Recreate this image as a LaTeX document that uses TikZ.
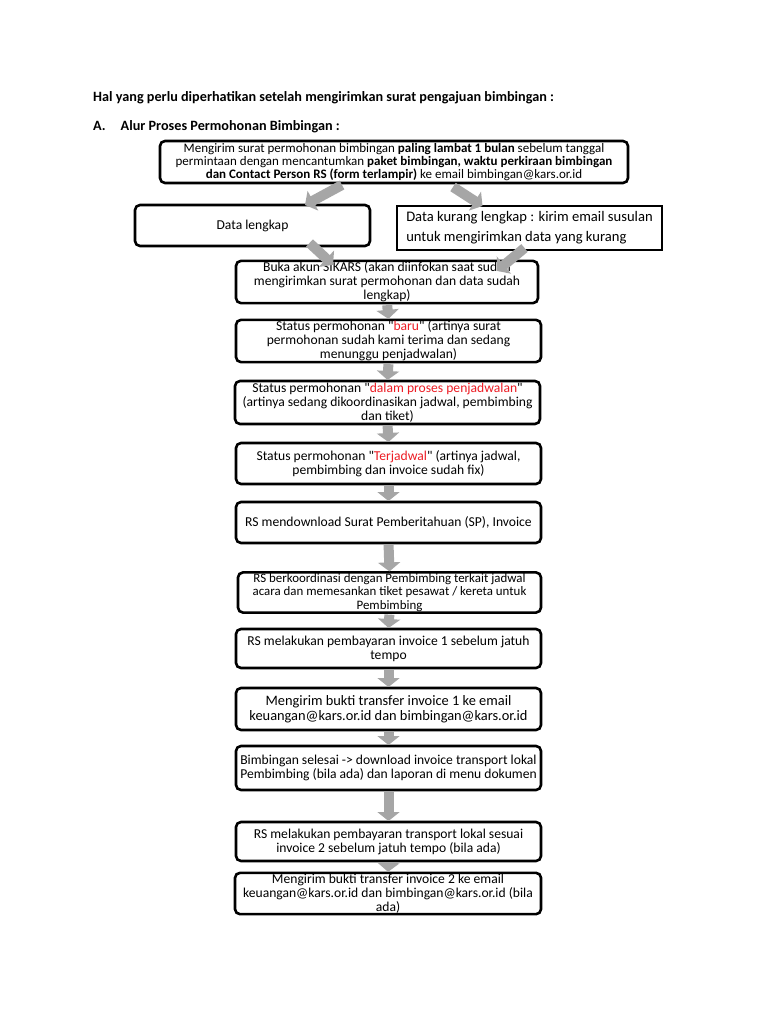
\documentclass[tikz,border=0pt]{standalone}
\usepackage{fontspec}
\setmainfont{Carlito}[Ligatures=TeXOff]
\usetikzlibrary{positioning,arrows.meta}
\definecolor{FlowGray}{RGB}{166,166,166}
\definecolor{FlowRed}{RGB}{237,28,36}

\begin{document}
\begin{tikzpicture}[x=1pt,y=-1pt,
box/.style={rectangle,rounded corners=5pt,draw=black,line width=2.6pt,fill=white,
minimum width=305pt,minimum height=41pt,align=center,inner sep=1pt,outer sep=0pt,
font=\fontsize{13.6}{14}\selectfont},
flow/.style={-{Triangle[length=9pt,width=22pt]},line width=10pt,draw=FlowGray,
shorten <=2pt,shorten >=1pt}
]
\useasboundingbox[fill=white] (0,0) rectangle (768,1024);

% headings
\node[anchor=base west,inner sep=0pt,font=\fontsize{14.2}{16}\selectfont\bfseries] (title) at (93,102)
  {Hal yang perlu diperhatikan setelah mengirimkan surat pengajuan bimbingan :};
\node[anchor=base west,inner sep=0pt,font=\fontsize{14.2}{16}\selectfont\bfseries] (secA) at (93,131)
  {A.\hspace{15pt}Alur Proses Permohonan Bimbingan :};

% request and data check
\node[box,minimum width=468pt,minimum height=42pt,font=\fontsize{13}{13}\selectfont] (req) at (394,162)
  {Mengirim surat permohonan bimbingan \textbf{paling lambat 1 bulan} sebelum tanggal\\
   permintaan dengan mencantumkan \textbf{paket bimbingan, waktu perkiraan bimbingan}\\
   \textbf{dan Contact Person RS (form terlampir)} ke email bimbingan@kars.or.id};
\node[box,minimum width=235pt] (lengkap) at (252.5,225.5) {Data lengkap};
\node[box,rounded corners=0pt,line width=2.8pt,minimum width=265pt,minimum height=44pt,
  align=left,font=\fontsize{14.6}{20}\selectfont] (kurang) at (529.5,228)
  {Data kurang lengkap : kirim email susulan\\untuk mengirimkan data yang kurang};

% main flow
\node[box,minimum width=302pt,minimum height=40pt] (akun) at (387,282)
  {Buka akun SIKARS (akan diinfokan saat sudah\\
   mengirimkan surat permohonan dan data sudah\\lengkap)};
\node[box,minimum height=42pt] (baru) at (388.5,341)
  {Status permohonan "\textcolor{FlowRed}{baru}" (artinya surat\\
   permohonan sudah kami terima dan sedang\\menunggu penjadwalan)};
\node[box,minimum height=43pt] (proses) at (387.5,402.5)
  {Status permohonan "\textcolor{FlowRed}{dalam proses penjadwalan}"\\
   (artinya sedang dikoordinasikan jadwal, pembimbing\\dan tiket)};
\node[box] (jadwal) at (388.5,463.5)
  {Status permohonan "\textcolor{FlowRed}{Terjadwal}" (artinya jadwal,\\
   pembimbing dan invoice sudah fix)};
\node[box] (unduh) at (388.5,522.5)
  {RS mendownload Surat Pemberitahuan (SP), Invoice};
\node[box,minimum width=303pt,minimum height=39pt,font=\fontsize{12.9}{13.5}\selectfont] (koord) at (389.5,592.5)
  {RS berkoordinasi dengan Pembimbing terkait jadwal\\
   acara dan memesankan tiket pesawat / kereta untuk\\Pembimbing};
\node[box,minimum height=39pt] (bayar1) at (388.5,648.5)
  {RS melakukan pembayaran invoice 1 sebelum jatuh\\tempo};
\node[box,minimum height=42pt,font=\fontsize{14.4}{15}\selectfont] (bukti1) at (388.5,709)
  {Mengirim bukti transfer invoice 1 ke email\\
   keuangan@kars.or.id dan bimbingan@kars.or.id};
\node[box,minimum height=44pt] (selesai) at (388.5,768)
  {Bimbingan selesai -> download invoice transport lokal\\
   Pembimbing (bila ada) dan laporan di menu dokumen};
\node[box,minimum height=39pt] (bayar2) at (388.5,841.5)
  {RS melakukan pembayaran transport lokal sesuai\\
   invoice 2 sebelum jatuh tempo (bila ada)};
\node[box,minimum width=306pt] (bukti2) at (388,893.5)
  {Mengirim bukti transfer invoice 2 ke email\\
   keuangan@kars.or.id dan bimbingan@kars.or.id (bila\\ada)};

% block arrows
\draw[flow,shorten <=0pt,shorten >=0pt] ([shift={(-52pt,-2pt)}]req.south) -- ([xshift=52.5pt]lengkap.north);
\draw[flow,shorten <=0pt,shorten >=0pt] ([shift={(59pt,-4pt)}]req.south) -- ([xshift=-47pt]kurang.north);
\draw[flow,shorten <=0pt,shorten >=0pt] ([shift={(57pt,3pt)}]lengkap.south) -- ([shift={(-54pt,-4pt)}]akun.north);
\draw[flow,shorten <=0pt,shorten >=0pt] ([shift={(-5pt,2pt)}]kurang.south) -- ([shift={(110pt,-10pt)}]akun.north);
\foreach \a/\b in {akun/baru,baru/proses,proses/jadwal,jadwal/unduh,unduh/koord,
  koord/bayar1,bayar1/bukti1,bukti1/selesai,selesai/bayar2,bayar2/bukti2}
  \draw[flow] (\a.south) -- (\b.north);
\end{tikzpicture}
\end{document}
